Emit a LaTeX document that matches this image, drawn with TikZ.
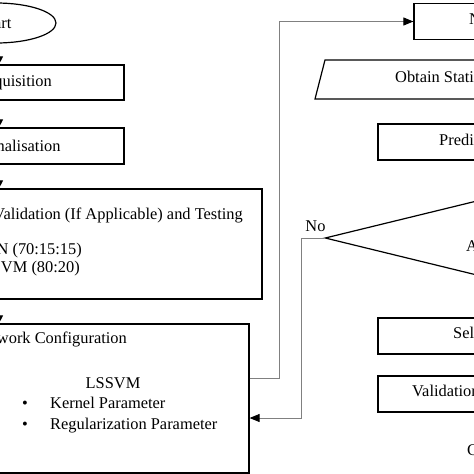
\documentclass[tikz,border=0pt]{standalone}
\usepackage{fontspec}
\setmainfont{Liberation Serif}
\usetikzlibrary{shapes.geometric,arrows.meta}
\tikzset{
  txt/.style={font=\fontsize{16.4}{19}\selectfont, inner sep=0pt, text height=0.68em, text depth=0.14em},
  boxnode/.style={draw=black, line width=1.2pt, rectangle, inner sep=0pt},
  startnode/.style={draw=black, line width=1.2pt, ellipse, inner sep=0pt, font=\fontsize{16.4}{19}\selectfont},
  conn/.style={draw=black!50, line width=0.9pt, -{Triangle[length=10pt,width=8pt,black]}},
  flow/.style={draw=black!70, line width=0.9pt, -{Triangle[length=8pt,width=8pt,black]}}
}
\begin{document}
\begin{tikzpicture}[x=1pt,y=-1pt]
\clip (0,0) rectangle (474,474);
\fill[white] (0,0) rectangle (474,474);

% left column
\node[startnode, minimum width=120pt, minimum height=40pt] (start) at (-4,23) {Start};
\node[boxnode, minimum width=256pt, minimum height=35pt, font=\fontsize{16.4}{19}\selectfont] (acq) at (-4,82.5) {Data Acquisition};
\node[boxnode, minimum width=256pt, minimum height=36pt, font=\fontsize{16.4}{19}\selectfont] (norm) at (-4,146) {Data Normalisation};
\node[boxnode, minimum width=532pt, minimum height=110pt] (div) at (-4,244) {};
\node[txt, anchor=east] (divt1) at (243,217) {Validation (If Applicable) and Testing};
\node[txt, anchor=east] (divt2) at (82,252) {ANN (70:15:15)};
\node[txt, anchor=east] (divt3) at (80,270) {LSSVM (80:20)};
\node[boxnode, minimum width=506pt, minimum height=149pt] (conf) at (-4,398.5) {};
\node[txt, anchor=east] (conft1) at (127,341) {Network Configuration};
\node[txt] (conft2) at (113,386) {LSSVM};
\node[txt] (bul1) at (25,406) {\textbullet};
\node[txt] (bul2) at (25,427) {\textbullet};
\node[txt, anchor=west] (kern) at (50,406) {Kernel Parameter};
\node[txt, anchor=west] (regu) at (50,427) {Regularization Parameter};

\draw[flow] ([xshift=3pt]start.south) -- ([xshift=3pt]acq.north);
\draw[flow] ([xshift=3pt]acq.south) -- ([xshift=3pt]norm.north);
\draw[flow] ([xshift=3pt]norm.south) -- ([xshift=3pt]div.north);
\draw[flow] ([xshift=3pt]div.south) -- ([xshift=3pt]conf.north);

% right column
\node[boxnode, minimum width=200pt, minimum height=36pt] (train) at (514,21.5) {};
\node[txt, anchor=west] (traint) at (469,22) {N};
\draw[black, line width=1.2pt] (325,60) -- (620,60) -- (610,99) -- (315,99) -- cycle;
\node[txt, anchor=west] (statt) at (395,80) {Obtain Statistical};
\node[boxnode, minimum width=200pt, minimum height=36pt] (pred) at (478,142) {};
\node[txt, anchor=west] (predt) at (439,143) {Prediction};
\node[draw=black, line width=1.2pt, diamond, inner sep=0pt, minimum width=400pt, minimum height=98pt] (dia) at (525,238) {};
\node[txt, anchor=west] (diat) at (466,249) {A};
\node[boxnode, minimum width=200pt, minimum height=36pt] (sel) at (478,336) {};
\node[txt, anchor=west] (selt) at (453,336) {Sel};
\node[boxnode, minimum width=200pt, minimum height=36pt] (val) at (478,394) {};
\node[txt, anchor=west] (valt) at (412,394) {Validation};
\node[txt, anchor=west] (endt) at (467,453) {C};

% connectors
\coordinate (bendA) at (279,378);
\draw[conn] (bendA -| conf.east) -- (bendA) |- (train.west);
\coordinate (bendB) at (301,418);
\draw[conn] (dia.west) -| (bendB) -- (bendB -| conf.east);
\node[txt] (nolab) at (315.5,229) {No};
\end{tikzpicture}
\end{document}
